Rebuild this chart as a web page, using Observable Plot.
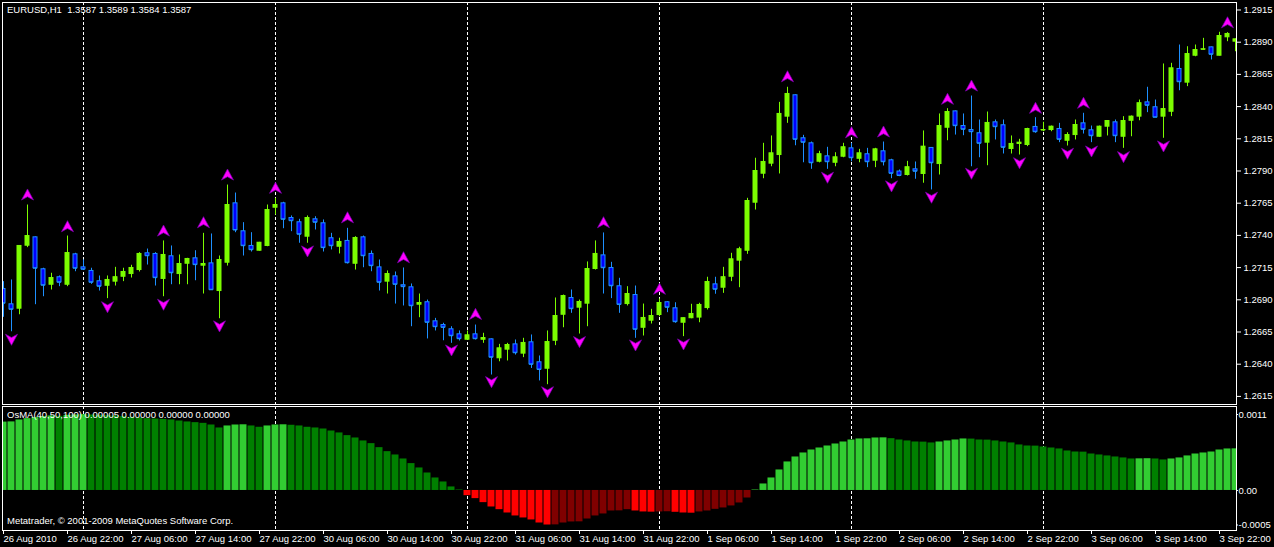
<!DOCTYPE html>
<html><head><meta charset="utf-8">
<script src="https://cdn.jsdelivr.net/npm/d3@7"></script>
<script src="https://cdn.jsdelivr.net/npm/@observablehq/plot@0.6"></script>
<style>
body{margin:0;background:#000;}
#wrap{position:relative;width:1274px;height:547px;background:#000;overflow:hidden;font-family:"Liberation Sans",Arial,sans-serif;}
#wrap svg{position:absolute;left:0;}
.lbl{position:absolute;left:7px;color:#fff;font-size:9.5px;line-height:12px;white-space:pre;}
</style></head><body>
<div id="wrap"></div>
<script>
// ---- EURUSD H1 candles (bar 0 = 26 Aug 2010 14:00) ----
const open = [1.26984,1.26865,1.26831,1.2732,1.27385,1.27137,1.27017,1.27075,1.27017,1.27253,
1.27152,1.27124,1.27044,1.27009,1.27041,1.27079,1.271,1.27131,1.27261,1.27256,
1.27062,1.27238,1.271,1.2718,1.27222,1.27165,1.27183,1.26968,1.27188,1.27649,
1.27432,1.27318,1.27281,1.27318,1.27615,1.27649,1.27535,1.27502,1.2739,1.27525,
1.27494,1.27378,1.27312,1.27357,1.2718,1.27385,1.27256,1.27152,1.27041,1.27082,
1.27013,1.26997,1.26862,1.26881,1.26733,1.26704,1.26671,1.26632,1.2659,1.26632,
1.2659,1.26593,1.26446,1.26513,1.26554,1.26482,1.2657,1.26415,1.26365,1.26582,
1.26784,1.26914,1.26839,1.2687,1.27139,1.27245,1.27147,1.27005,1.26867,1.26937,
1.26683,1.26738,1.26782,1.26881,1.26834,1.26722,1.26757,1.26762,1.26836,1.2702,
1.26994,1.27079,1.27204,1.27281,1.27654,1.27879,1.27957,1.28024,1.28322,1.28488,
1.28154,1.28115,1.27972,1.28014,1.27964,1.28011,1.28076,1.27995,1.2803,1.2798,
1.28053,1.27983,1.27896,1.27869,1.27913,1.27877,1.28079,1.27954,1.28236,1.28363,
1.28249,1.28218,1.28193,1.2812,1.28278,1.28255,1.28071,1.2811,1.28102,1.28242,
1.28217,1.28218,1.28226,1.28135,1.28179,1.2827,1.28216,1.28166,1.28244,1.28278,
1.28166,1.2829,1.28322,1.28433,1.28395,1.28322,1.2836,1.28692,1.28586,1.28795,
1.28843,1.2886,1.28795,1.28938,1.28904];
const high = [1.27041,1.27054,1.2732,1.27636,1.27388,1.27145,1.27106,1.27085,1.27395,1.27261,
1.27209,1.27145,1.27085,1.27085,1.27152,1.27145,1.27168,1.27266,1.27294,1.27266,
1.27357,1.27318,1.27248,1.27222,1.27281,1.27416,1.27411,1.2724,1.27791,1.27729,
1.27499,1.27421,1.27346,1.27636,1.27688,1.27657,1.27551,1.27525,1.27551,1.27545,
1.2752,1.27416,1.27378,1.27455,1.2739,1.27395,1.27279,1.27209,1.27124,1.27116,
1.27147,1.27023,1.26945,1.26898,1.26756,1.26718,1.26691,1.26658,1.26658,1.26704,
1.2664,1.26596,1.26554,1.26562,1.26588,1.26601,1.26627,1.26464,1.26658,1.26914,
1.26937,1.26976,1.26898,1.27194,1.27357,1.27419,1.27191,1.27067,1.27002,1.27007,
1.26867,1.26826,1.26906,1.26885,1.26877,1.2676,1.26865,1.26873,1.27075,1.27075,
1.27152,1.27261,1.27308,1.27688,1.27999,1.28115,1.28172,1.28433,1.2855,1.28491,
1.28177,1.28125,1.28053,1.28084,1.28042,1.28115,1.28115,1.28068,1.28076,1.28076,
1.28125,1.27991,1.27908,1.27975,1.2797,1.28211,1.28082,1.28343,1.28384,1.28366,
1.28343,1.28482,1.28296,1.28358,1.28296,1.28296,1.28172,1.28146,1.28232,1.28314,
1.28278,1.28249,1.2827,1.28197,1.28296,1.28348,1.28249,1.28249,1.2829,1.28296,
1.28322,1.28327,1.28451,1.2855,1.28451,1.28731,1.28736,1.28878,1.28865,1.28878,
1.2893,1.28862,1.28977,1.28974,1.28925];
const low = [1.26764,1.26652,1.26784,1.27305,1.26862,1.26924,1.26976,1.27002,1.27002,1.27118,
1.27131,1.2702,1.26968,1.26909,1.27007,1.27041,1.27069,1.27116,1.2717,1.27007,
1.26924,1.27017,1.27017,1.27017,1.27048,1.26945,1.26976,1.26753,1.27162,1.27421,
1.2724,1.27271,1.27278,1.27312,1.27558,1.27452,1.27429,1.27339,1.27339,1.27442,
1.27271,1.27287,1.27256,1.27178,1.27131,1.27149,1.27118,1.26968,1.26945,1.26867,
1.26852,1.26691,1.26761,1.26596,1.26658,1.26582,1.26562,1.2658,1.26586,1.26588,
1.26562,1.26316,1.26419,1.26425,1.26471,1.26451,1.26367,1.2627,1.26241,1.26544,
1.26683,1.26795,1.26634,1.26691,1.27131,1.26945,1.26909,1.26795,1.26852,1.26601,
1.26619,1.26712,1.26769,1.268,1.26718,1.26614,1.26753,1.26722,1.26821,1.26943,
1.2695,1.27041,1.26994,1.27253,1.27597,1.2784,1.27933,1.27877,1.2827,1.28096,
1.27964,1.27913,1.27963,1.27913,1.27933,1.28003,1.27972,1.27964,1.27926,1.27926,
1.27939,1.2784,1.27856,1.27861,1.27836,1.27805,1.27753,1.27869,1.28135,1.28179,
1.28174,1.27933,1.28003,1.27941,1.28141,1.28032,1.28032,1.28024,1.28089,1.28193,
1.28205,1.28205,1.2812,1.28094,1.28141,1.28187,1.2812,1.28162,1.28172,1.2812,
1.28076,1.28166,1.2829,1.28353,1.28315,1.28154,1.28322,1.28523,1.28555,1.28787,
1.28839,1.28762,1.28793,1.28904,1.28826];
const close = [1.26873,1.26826,1.27318,1.27395,1.27145,1.27013,1.27069,1.27036,1.27263,1.27145,
1.27137,1.27036,1.27005,1.27054,1.27075,1.27116,1.27147,1.27256,1.27242,1.27072,
1.27248,1.2711,1.27178,1.27217,1.27173,1.27178,1.26978,1.27209,1.27636,1.27442,
1.2732,1.27289,1.27343,1.27597,1.27636,1.27525,1.27514,1.27409,1.27535,1.27502,
1.27305,1.2732,1.27349,1.27188,1.2738,1.27242,1.27165,1.27036,1.271,1.2702,
1.27002,1.26854,1.26875,1.26725,1.26691,1.26686,1.26621,1.26598,1.26624,1.26598,
1.26603,1.26454,1.26523,1.26549,1.26489,1.26565,1.26399,1.26359,1.26572,1.26774,
1.26929,1.26831,1.26883,1.27139,1.27256,1.27149,1.27009,1.26864,1.26945,1.26671,
1.26759,1.26774,1.26875,1.26842,1.2673,1.26757,1.2679,1.2686,1.27038,1.26982,
1.27075,1.27214,1.27292,1.27667,1.279,1.2797,1.28037,1.28343,1.28498,1.28146,
1.28123,1.27964,1.2803,1.27972,1.28006,1.28084,1.28003,1.28037,1.27972,1.28068,
1.27972,1.27882,1.27865,1.27929,1.27898,1.28089,1.27964,1.28249,1.28358,1.28252,
1.28224,1.28205,1.28115,1.28273,1.28244,1.28084,1.2811,1.2812,1.28226,1.28205,
1.28218,1.28244,1.28146,1.28179,1.28257,1.28224,1.28174,1.28244,1.28288,1.28174,
1.28288,1.28322,1.28426,1.2841,1.28317,1.28381,1.28697,1.28593,1.28808,1.28839,
1.28845,1.28806,1.28948,1.28964,1.28922];

// ---- fractal arrows ----
const upBars = [3,8,20,25,28,34,43,50,59,75,82,98,106,110,118,121,129,135,153];
const upPrices = [1.27714,1.27468,1.27434,1.27499,1.27869,1.27766,1.27537,1.27227,1.26787,1.27499,1.26982,1.28632,1.28197,1.28203,1.28457,1.2856,1.28387,1.28426,1.29051];
const downBars = [1,13,20,27,38,56,61,68,72,79,85,103,111,116,121,127,133,136,140,145];
const downPrices = [1.26593,1.26846,1.26865,1.26697,1.27279,1.2651,1.26264,1.26186,1.26575,1.26549,1.26557,1.27851,1.27784,1.27696,1.27882,1.27964,1.28037,1.28055,1.28011,1.28094];

// ---- OsMA(40,50,100) ----
const osma = [0.000990,0.000993,0.001021,0.001040,0.001055,0.001069,0.001079,0.001074,0.001088,0.001093,
0.001098,0.001093,0.001088,0.001083,0.001079,0.001069,0.001059,0.001050,0.001040,0.001035,
0.001030,0.001021,0.001006,0.000992,0.000982,0.000972,0.000948,0.000905,0.000934,0.000948,
0.000951,0.000934,0.000915,0.000934,0.000948,0.000951,0.000944,0.000934,0.000915,0.000905,
0.000890,0.000861,0.000833,0.000794,0.000760,0.000717,0.000678,0.000620,0.000562,0.000514,
0.000456,0.000389,0.000326,0.000253,0.000181,0.000123,0.000051,0.000007,-0.000075,-0.000118,
-0.000176,-0.000239,-0.000278,-0.000326,-0.000369,-0.000398,-0.000427,-0.000471,-0.000500,-0.000498,
-0.000471,-0.000456,-0.000454,-0.000413,-0.000369,-0.000340,-0.000297,-0.000295,-0.000278,-0.000297,
-0.000311,-0.000314,-0.000311,-0.000308,-0.000316,-0.000326,-0.000329,-0.000311,-0.000297,-0.000273,
-0.000253,-0.000224,-0.000181,-0.000109,0.000007,0.000094,0.000181,0.000297,0.000413,0.000485,
0.000543,0.000586,0.000615,0.000644,0.000673,0.000702,0.000731,0.000746,0.000748,0.000760,
0.000762,0.000750,0.000731,0.000717,0.000702,0.000700,0.000688,0.000702,0.000717,0.000731,
0.000746,0.000744,0.000731,0.000729,0.000717,0.000702,0.000688,0.000659,0.000644,0.000642,
0.000630,0.000615,0.000601,0.000572,0.000557,0.000555,0.000528,0.000514,0.000500,0.000485,
0.000471,0.000456,0.000458,0.000460,0.000456,0.000442,0.000456,0.000471,0.000500,0.000528,
0.000543,0.000557,0.000586,0.000601,0.000603];

// ---- axes / time ----
const separatorBars = [10,34,58,82,106,130];
const labelBars = [0,8,16,24,32,40,48,56,64,72,80,88,96,104,112,120,128,136,144,152];
const timeLabels = ["26 Aug 2010","26 Aug 22:00","27 Aug 06:00","27 Aug 14:00","27 Aug 22:00","30 Aug 06:00","30 Aug 14:00","30 Aug 22:00","31 Aug 06:00","31 Aug 14:00","31 Aug 22:00","1 Sep 06:00","1 Sep 14:00","1 Sep 22:00","2 Sep 06:00","2 Sep 14:00","2 Sep 22:00","3 Sep 06:00","3 Sep 14:00","3 Sep 22:00"];
const priceTicks = [1.2615,1.2640,1.2665,1.2690,1.2715,1.2740,1.2765,1.2790,1.2815,1.2840,1.2865,1.2890,1.2915];
const osmaTicks = [-0.0005,0,0.0011];
const osmaTickLabels = ["-0.0005","0.00","0.0011"];
const titleText = "EURUSD,H1  1.3587 1.3589 1.3584 1.3587";
const osmaText = "OsMA(40,50,100) 0.00005 0.00000 0.00000 0.00000";
const copyText = "Metatrader, \u00a9 2001-2009 MetaQuotes Software Corp.";

// ---- derived tables ----
const BULL = "#7cfc00", BEAR_FILL = "#0000ff", BEAR_LINE = "#1e90ff";
const candles = open.map((o, i) => ({i, open: o, high: high[i], low: low[i], close: close[i], bull: close[i] >= o}));
const ups = upBars.map((b, k) => ({i: b, p: upPrices[k]}));
const downs = downBars.map((b, k) => ({i: b, p: downPrices[k]}));
const osmaData = osma.map((v, i) => {
  const prev = i > 0 ? osma[i - 1] : -Infinity;
  let c;
  if (v >= 0) c = (i === 0 || v > prev) ? "#32cd32" : "#008000";
  else c = (v < prev) ? "#ff0000" : "#800000";
  return {i, v, c};
});

const upSym = {draw(ctx, size) { const r = Math.sqrt(size / Math.PI);
  ctx.moveTo(0, -r); ctx.lineTo(r, r * 0.85); ctx.lineTo(0, r * 0.3); ctx.lineTo(-r, r * 0.85); ctx.closePath(); }};
const downSym = {draw(ctx, size) { const r = Math.sqrt(size / Math.PI);
  ctx.moveTo(0, r); ctx.lineTo(r, -r * 0.85); ctx.lineTo(0, -r * 0.3); ctx.lineTo(-r, -r * 0.85); ctx.closePath(); }};

const xDomain = [-0.125, 154.125];
const baseStyle = {background: "#000", color: "#fff", fontFamily: "'Liberation Sans', Arial, sans-serif", fontSize: "9.5px", overflow: "visible"};

const pricePlot = Plot.plot({
  width: 1274, height: 406,
  marginLeft: 2, marginRight: 38, marginTop: 2, marginBottom: 2,
  style: baseStyle,
  x: {domain: xDomain, axis: null},
  y: {domain: [1.260871, 1.292082], axis: null},
  color: {type: "identity"},
  marks: [
    Plot.ruleX(separatorBars, {x: d => d, stroke: "#fff", strokeDasharray: "3,2"}),
    Plot.ruleX(candles, {x: "i", y1: "low", y2: "high", stroke: d => d.bull ? BULL : BEAR_LINE, clip: true}),
    Plot.rect(candles, {x1: d => d.i - 0.25, x2: d => d.i + 0.25, y1: "open", y2: "close",
      fill: d => d.bull ? BULL : BEAR_FILL, stroke: d => d.bull ? BULL : BEAR_LINE, clip: true}),
    Plot.ruleY(candles, {y: "close", x1: d => d.i - 0.25, x2: d => d.i + 0.25, stroke: d => d.bull ? BULL : BEAR_LINE, clip: true}),
    Plot.dot(ups, {x: "i", y: "p", r: 6, symbol: upSym, fill: "#ff00ff", stroke: "#7a00b0", strokeWidth: 0.7}),
    Plot.dot(downs, {x: "i", y: "p", r: 6, symbol: downSym, fill: "#ff00ff", stroke: "#7a00b0", strokeWidth: 0.7}),
    Plot.axisY({anchor: "right", ticks: priceTicks, tickFormat: d3.format(".4f"), tickSize: 4, tickPadding: 3, stroke: "#fff", fill: "#fff", label: null}),
    Plot.frame({stroke: "#fff"})
  ]
});
pricePlot.style.top = "0px";

const osmaPlot = Plot.plot({
  width: 1274, height: 141,
  marginLeft: 2, marginRight: 38, marginTop: 0, marginBottom: 17,
  style: baseStyle,
  x: {domain: xDomain, axis: null},
  y: {domain: [-0.0005, 0.0011], range: [118.5, 8], axis: null},
  color: {type: "identity"},
  marks: [
    Plot.ruleX(separatorBars, {x: d => d, stroke: "#fff", strokeDasharray: "3,2"}),
    Plot.rect(osmaData, {x1: d => d.i - 0.4375, x2: d => d.i + 0.4375, y1: 0, y2: "v", fill: "c", clip: true}),
    Plot.axisY({anchor: "right", ticks: osmaTicks, tickFormat: d => osmaTickLabels[osmaTicks.indexOf(d)], tickSize: 1, tickPadding: 1, stroke: "#fff", fill: "#fff", label: null}),
    Plot.axisX({ticks: labelBars, tickFormat: d => timeLabels[labelBars.indexOf(d)], textAnchor: "start", tickSize: 4, tickPadding: 1, stroke: "#fff", fill: "#fff", label: null}),
    Plot.frame({stroke: "#fff"})
  ]
});
osmaPlot.style.top = "406px";

const wrap = document.getElementById("wrap");
wrap.appendChild(pricePlot);
wrap.appendChild(osmaPlot);
function addLabel(text, top) {
  const d = document.createElement("div");
  d.className = "lbl"; d.style.top = top + "px"; d.textContent = text;
  wrap.appendChild(d);
}
addLabel(titleText, 4);
addLabel(osmaText, 409);
addLabel(copyText, 515);
</script>
</body></html>
